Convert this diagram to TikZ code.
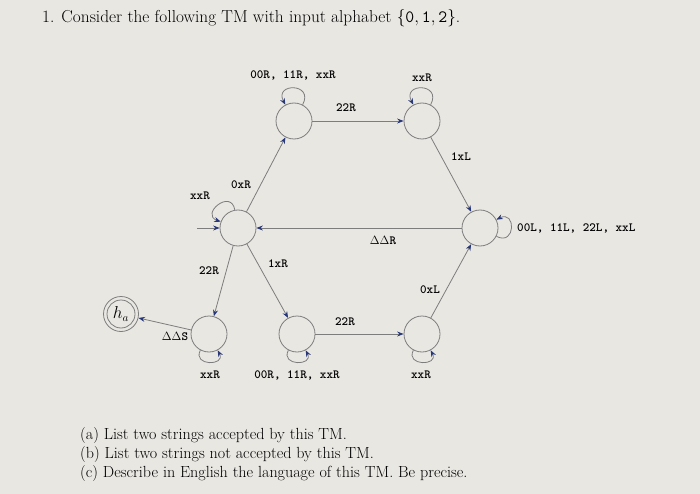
\documentclass[tikz,border=0pt]{standalone}
\usetikzlibrary{arrows.meta}
\definecolor{bg}{RGB}{233,231,226}
\definecolor{ln}{RGB}{125,125,125}
\definecolor{tipc}{RGB}{40,55,120}
\begin{document}
\begin{tikzpicture}[x=1pt,y=1pt,
  st/.style={circle,draw=ln,line width=0.8pt,minimum size=36pt,inner sep=0pt},
  tr/.style={draw=ln,line width=0.8pt,-{Stealth[length=6.5pt,width=5pt,color=tipc]}},
  lab/.style={font=\fontsize{12.5}{14}\selectfont\ttfamily\bfseries,inner sep=0pt},
  txt/.style={font=\fontsize{16.1}{19}\selectfont,inner sep=0pt}]
\useasboundingbox[fill=bg] (0,0) rectangle (700,-494);
% title
\node[txt,anchor=west,font=\fontsize{17.3}{19}\selectfont] (title) at (42,-18) {1. Consider the following TM with input alphabet $\{\mathtt{0},\mathtt{1},\mathtt{2}\}$.};
% states
\node[st] (q0) at (238,-228) {};
\node[st] (q1) at (294,-121) {};
\node[st] (q2) at (422,-121) {};
\node[st] (q3) at (480,-228) {};
\node[st] (q4) at (209,-334) {};
\node[st] (q5) at (297,-334) {};
\node[st] (q6) at (422,-334) {};
\node[circle,draw=ln,line width=0.8pt,minimum size=35pt,inner sep=0pt] (ha) at (121,-314) {};
\node[circle,draw=ln,line width=0.8pt,minimum size=28pt,inner sep=0pt] (hai) at (121,-314) {\fontsize{16}{16}\selectfont$h_a$};
\coordinate (s) at (197,-228);
% transitions
\draw[tr] (s) -- (q0);
\draw[tr] (q0) -- (q1);
\draw[tr] (q1) -- (q2);
\draw[tr] (q2) -- (q3);
\draw[tr] (q3) -- (q0);
\draw[tr] (q0) -- (q4);
\draw[tr] (q0) -- (q5);
\draw[tr] (q5) -- (q6);
\draw[tr] (q6) -- (q3);
\draw[tr] (q4) -- (ha);
% loops
\draw[tr] (q1.62) .. controls +(62:25) and +(118:25) .. (q1.118);
\draw[tr] (q2.62) .. controls +(62:25) and +(118:25) .. (q2.118);
\draw[tr] (q0.100) .. controls +(100:22) and +(160:22) .. (q0.160);
\draw[tr] (q3.-27) .. controls +(-27:22) and +(27:22) .. (q3.27);
\draw[tr] (q4.-118) .. controls +(-118:18) and +(-62:18) .. (q4.-62);
\draw[tr] (q5.-118) .. controls +(-118:18) and +(-62:18) .. (q5.-62);
\draw[tr] (q6.-118) .. controls +(-118:18) and +(-62:18) .. (q6.-62);
% labels
\node[lab] (l1) at (293,-75) {00R, 11R, xxR};
\node[lab] (l2) at (422,-78) {xxR};
\node[lab] (l3) at (346,-108) {22R};
\node[lab] (l4) at (461,-157) {1xL};
\node[lab] (l5) at (241,-185) {0xR};
\node[lab] (l6) at (200,-196) {xxR};
\node[lab] (l7) at (383,-240) {$\Delta\Delta$R};
\node[lab,anchor=west] (l8) at (517,-228) {00L, 11L, 22L, xxL};
\node[lab] (l9) at (209,-271) {22R};
\node[lab] (l10) at (278,-264) {1xR};
\node[lab] (l11) at (430,-290) {0xL};
\node[lab] (l12) at (345,-322) {22R};
\node[lab] (l13) at (175,-336) {$\Delta\Delta$S};
\node[lab] (l14) at (210,-375) {xxR};
\node[lab] (l15) at (297,-375) {00R, 11R, xxR};
\node[lab] (l16) at (421,-375) {xxR};
% questions
\node[txt,anchor=north west,align=left] (qs) at (80,-427) {(a) List two strings accepted by this TM.\\(b) List two strings not accepted by this TM.\\(c) Describe in English the language of this TM. Be precise.};
\end{tikzpicture}
\end{document}
